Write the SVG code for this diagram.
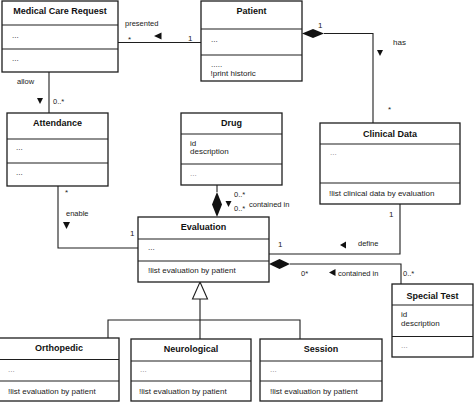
<svg xmlns="http://www.w3.org/2000/svg" width="474" height="402" viewBox="0 0 474 402">
<style>
.box{fill:#fff;stroke:#1e1e1e;stroke-width:1.3}
.ln{fill:none;stroke:#1e1e1e;stroke-width:1.1}
.t{font-family:"Liberation Sans",Arial,sans-serif;font-size:9px;font-weight:bold;fill:#111;text-anchor:middle}
.a{font-family:"Liberation Sans",Arial,sans-serif;font-size:8px;fill:#222}
.g{font-family:"Liberation Sans",Arial,sans-serif;font-size:8px;fill:#888}
.l{font-family:"Liberation Sans",Arial,sans-serif;font-size:7.5px;fill:#222}
.f{fill:#111;stroke:none}
.h{fill:#fff;stroke:#1e1e1e;stroke-width:1.1}
</style>
<rect width="474" height="402" fill="#fff"/>
<g id="connectors">
<path class="ln" d="M118 42.5H201"/>
<polygon class="f" points="154,36 161.5,32.5 161.5,39.5"/>
<text class="l" x="125" y="25.5">presented</text>
<text class="a" x="128" y="42">*</text>
<text class="a" x="188" y="41">1</text>
<path class="ln" d="M49 72V113"/>
<polygon class="f" points="37,98 43,98 40,104"/>
<text class="l" x="17" y="84">allow</text>
<text class="l" x="53" y="104">0..*</text>
<path class="ln" d="M324 33.5H373V123"/>
<polygon class="f" points="302,33.5 313,29 324,33.5 313,38"/>
<polygon class="f" points="377,50 383,50 380,56"/>
<text class="a" x="318" y="28">1</text>
<text class="a" x="393" y="45">has</text>
<text class="a" x="388" y="112">*</text>
<path class="ln" d="M58 186V248H138"/>
<polygon class="f" points="63,222 70,222 66.5,229"/>
<text class="a" x="65" y="195">*</text>
<text class="l" x="66" y="216">enable</text>
<text class="a" x="130" y="236">1</text>
<path class="ln" d="M217 185V192"/>
<polygon class="f" points="217,192 222,204.5 217,217 212,204.5"/>
<polygon class="f" points="225.5,201 231.5,201 228.5,207"/>
<text class="l" x="234" y="197">0..*</text>
<text class="l" x="234" y="211">0..*</text>
<text class="l" x="249" y="206.5">contained in</text>
<path class="ln" d="M400 204V254H269"/>
<polygon class="f" points="340,245 346,241.5 346,248.5"/>
<text class="a" x="389" y="216.5">1</text>
<text class="a" x="278" y="246.5">1</text>
<text class="l" x="358" y="246">define</text>
<path class="ln" d="M290 264H401V284"/>
<polygon class="f" points="269,264 279.5,259 290,264 279.5,269"/>
<polygon class="f" points="329,272.5 335.5,269 335.5,276"/>
<text class="l" x="301" y="275.5">0*</text>
<text class="l" x="338" y="275.5">contained in</text>
<text class="l" x="403" y="275.5">0..*</text>
<path class="ln" d="M200 299V339M108 338V320H300V339"/>
<polygon class="h" points="200,282 207.5,299 192.5,299"/>
</g>
<g id="medical-care-request">
<rect class="box" x="2" y="1" width="116" height="71"/>
<path class="ln" d="M2 25H118M2 49H118"/>
<text class="t" x="60" y="13.5">Medical Care Request</text>
<text class="a" x="12" y="38">...</text>
<text class="a" x="12" y="61">...</text>
</g>
<g id="patient">
<rect class="box" x="201" y="1" width="101" height="80"/>
<path class="ln" d="M201 29H302M201 55H302"/>
<text class="t" x="251.5" y="14">Patient</text>
<text class="a" x="211" y="41.5">...</text>
<text class="a" x="211" y="66.5">.....</text>
<text class="a" x="210.5" y="75.5">!print historic</text>
</g>
<g id="attendance">
<rect class="box" x="7" y="113" width="101" height="73"/>
<path class="ln" d="M7 139H108M7 163H108"/>
<text class="t" x="57.5" y="126">Attendance</text>
<text class="a" x="16" y="150">...</text>
<text class="a" x="16" y="174.5">...</text>
</g>
<g id="drug">
<rect class="box" x="181" y="113" width="101" height="72"/>
<path class="ln" d="M181 134H282M181 164H282"/>
<text class="t" x="231.5" y="126">Drug</text>
<text class="a" x="190" y="145.5">id</text>
<text class="a" x="190" y="154">description</text>
<text class="g" x="190" y="176">...</text>
</g>
<g id="clinical-data">
<rect class="box" x="320" y="123" width="140" height="81"/>
<path class="ln" d="M320 144H460M320 183H460"/>
<text class="t" x="390" y="136.5">Clinical Data</text>
<text class="g" x="330" y="155">...</text>
<text class="a" x="329" y="195.5">!list clinical data by evaluation</text>
</g>
<g id="evaluation">
<rect class="box" x="138" y="217" width="131" height="65"/>
<path class="ln" d="M138 239H269M138 261H269"/>
<text class="t" x="203.5" y="230">Evaluation</text>
<text class="a" x="148" y="250">...</text>
<text class="a" x="148" y="273">!list evaluation by patient</text>
</g>
<g id="special-test">
<rect class="box" x="392" y="284" width="81" height="73"/>
<path class="ln" d="M392 305H473M392 336.5H473"/>
<text class="t" x="432.5" y="298.5">Special Test</text>
<text class="a" x="401" y="317">id</text>
<text class="a" x="401" y="325.5">description</text>
<text class="g" x="401" y="347.5">...</text>
</g>
<g id="orthopedic">
<rect class="box" x="-1" y="338" width="120" height="63"/>
<path class="ln" d="M-1 359.5H119M-1 381H119"/>
<text class="t" x="59" y="351">Orthopedic</text>
<text class="g" x="8" y="372">...</text>
<text class="a" x="8" y="393.5">!list evaluation by patient</text>
</g>
<g id="neurological">
<rect class="box" x="131" y="339" width="120" height="62"/>
<path class="ln" d="M131 361H251M131 381H251"/>
<text class="t" x="191" y="352">Neurological</text>
<text class="g" x="140" y="372">...</text>
<text class="a" x="139" y="393.5">!list evaluation by patient</text>
</g>
<g id="session">
<rect class="box" x="260" y="339" width="122" height="62"/>
<path class="ln" d="M260 361H382M260 381H382"/>
<text class="t" x="321" y="352">Session</text>
<text class="g" x="270" y="372">...</text>
<text class="a" x="270" y="393.5">!list evaluation by patient</text>
</g>
</svg>
